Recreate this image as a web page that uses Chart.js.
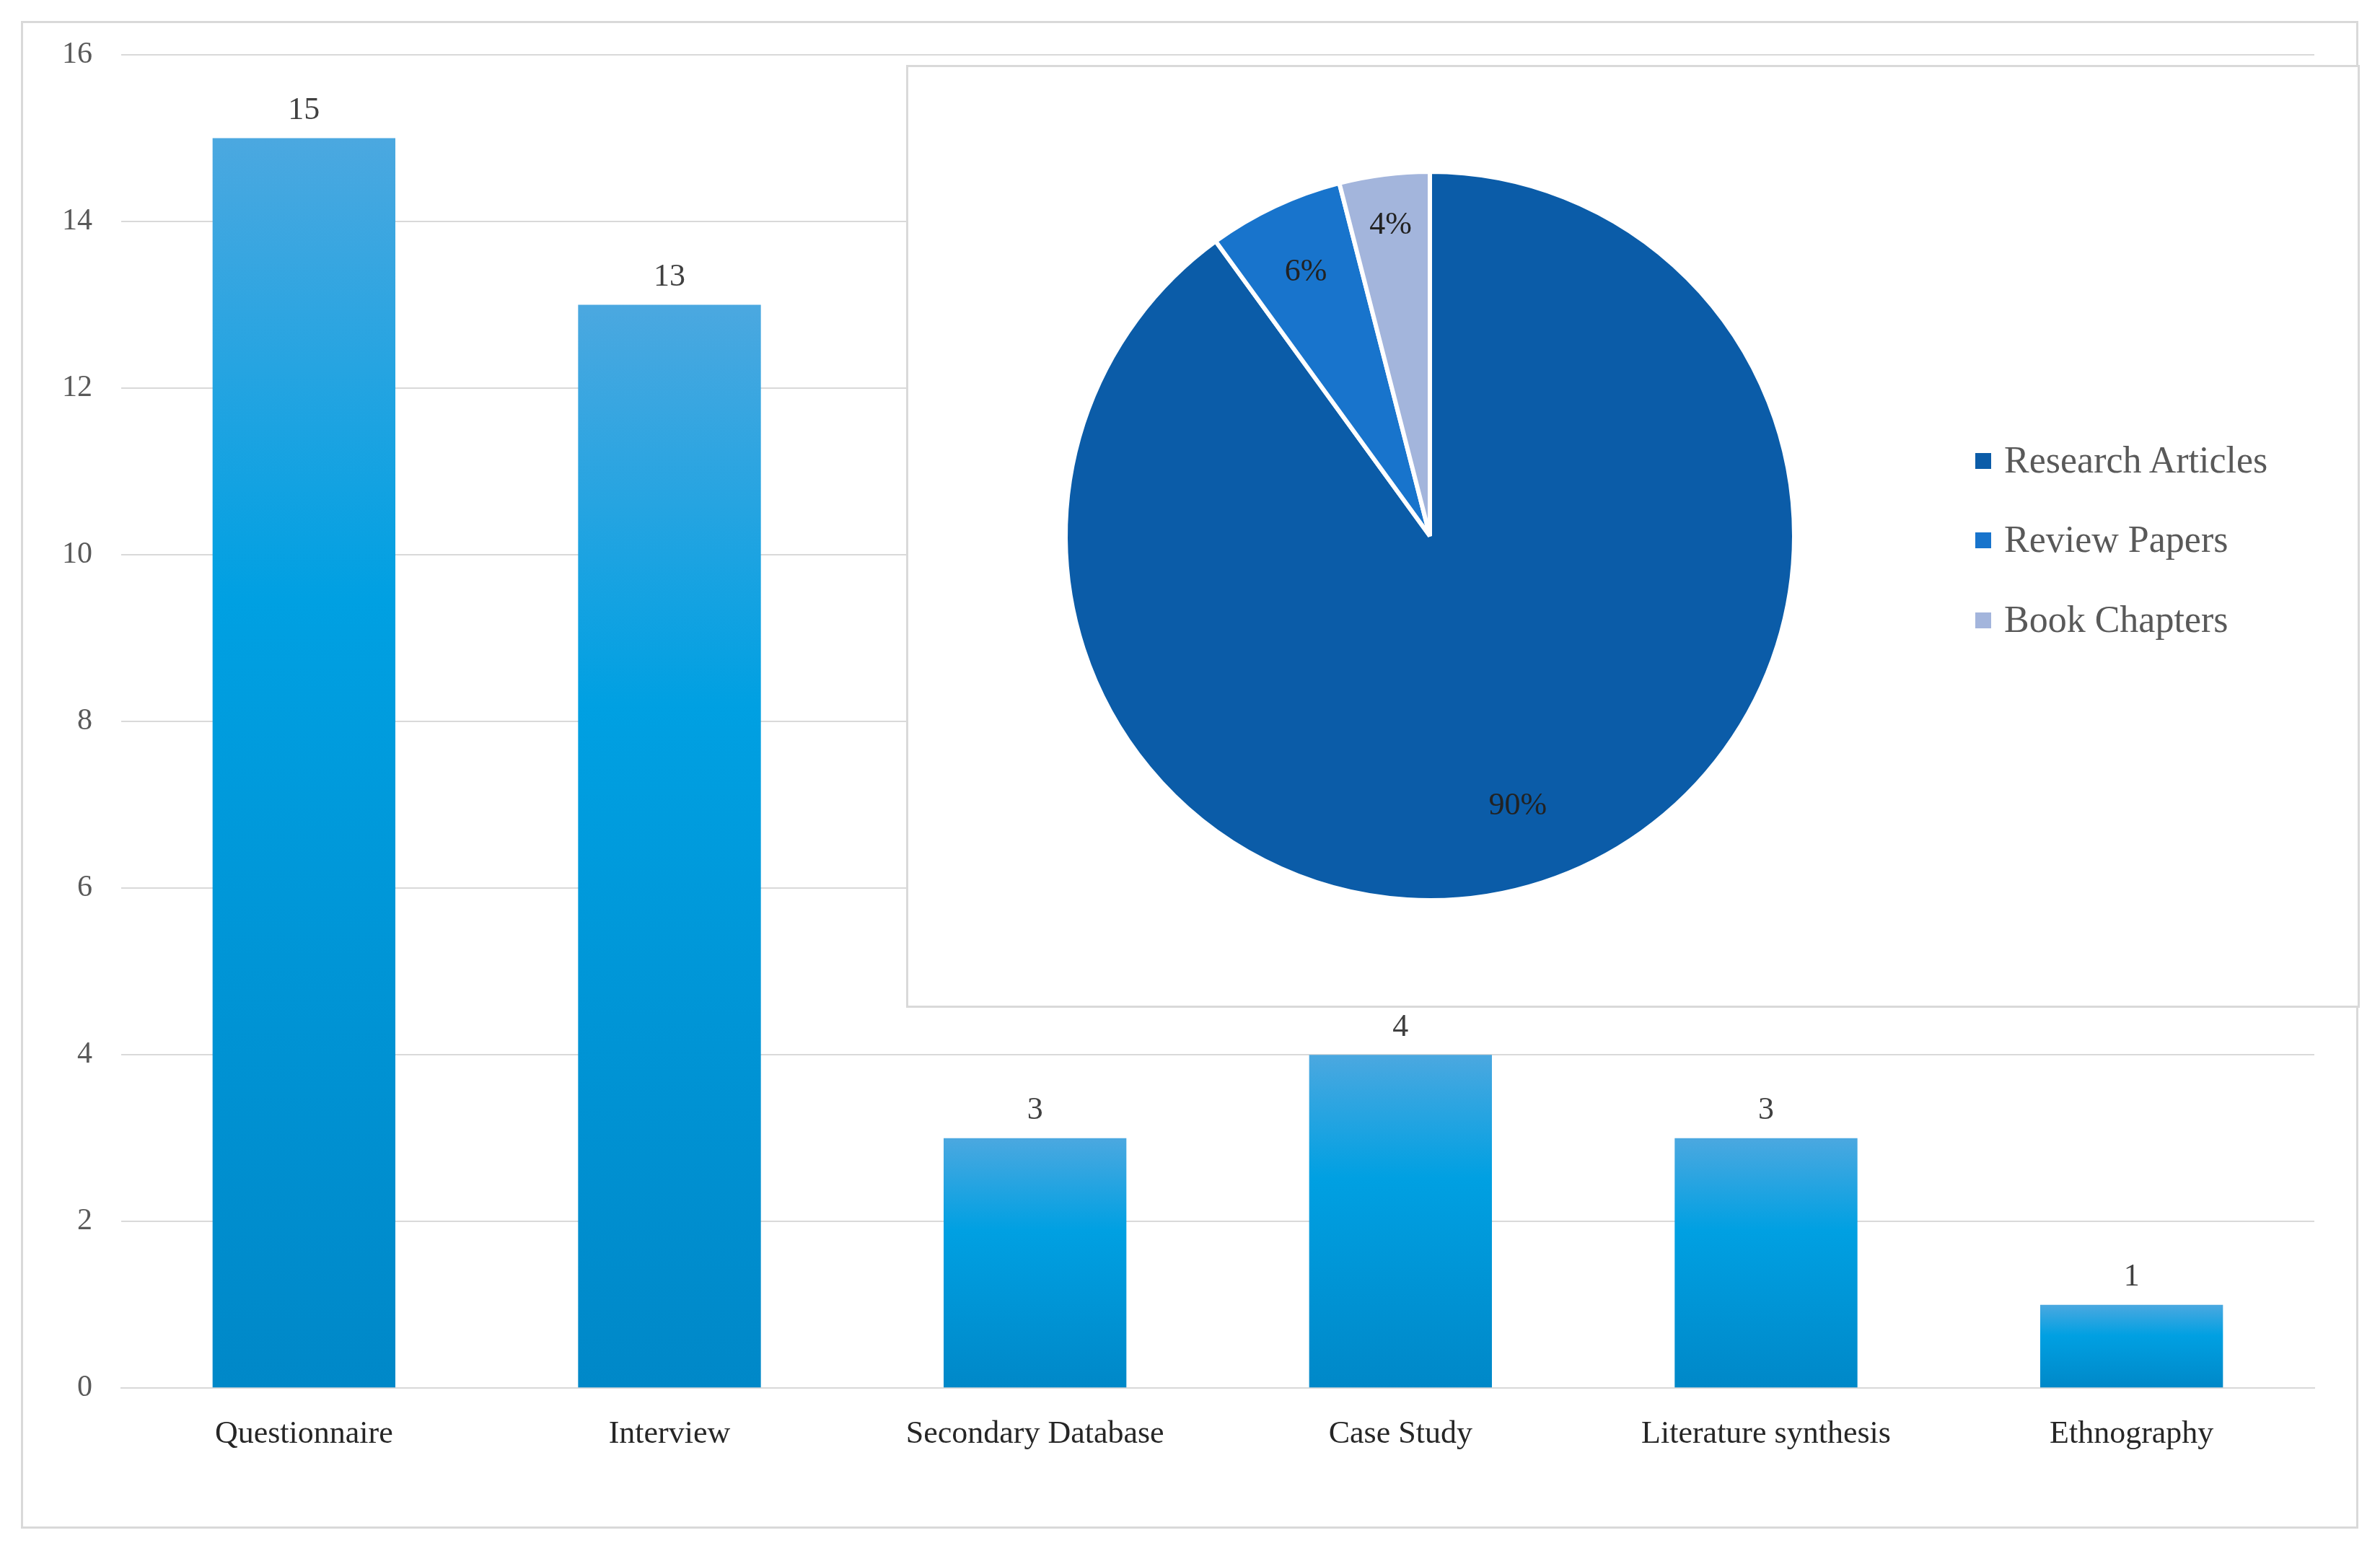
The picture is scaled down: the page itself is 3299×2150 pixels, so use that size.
<!DOCTYPE html>
<html><head><meta charset="utf-8">
<script src="https://cdn.jsdelivr.net/npm/chart.js@4"></script>
<style>
html,body{margin:0;padding:0;background:#fff;}
#wrap{position:relative;width:3299px;height:2150px;}
#frame{position:absolute;left:29px;top:29px;width:3240px;height:2090px;border:3px solid #d9d9d9;box-sizing:border-box;}
#barBox{position:absolute;left:0;top:0;width:3299px;height:2150px;}
#inset{position:absolute;left:1256px;top:90px;width:2015px;height:1307px;background:#fff;border:3px solid #d9d9d9;box-sizing:border-box;}
#pieBox{position:absolute;left:0;top:0;width:2015px;height:1307px;}
.lg{position:absolute;left:1479px;font-family:"Liberation Serif","DejaVu Serif",serif;font-size:52px;color:#595959;white-space:nowrap;}
.lg span{display:inline-block;width:22px;height:22px;margin-right:18px;vertical-align:middle;position:relative;top:-4px;}
</style></head><body>
<div id="wrap">
<div id="frame"></div>
<div id="barBox"><canvas id="bar" width="3299" height="2150"></canvas></div>
<div id="inset"><div id="pieBox"><canvas id="pie" width="2009" height="1301"></canvas></div>
<div class="lg" style="top:515px"><span style="background:#0b5ca8"></span>Research Articles</div>
<div class="lg" style="top:625px"><span style="background:#1874cc"></span>Review Papers</div>
<div class="lg" style="top:736px"><span style="background:#a3b5dc"></span>Book Chapters</div>
</div>
</div>
<script>
const categories=["Questionnaire","Interview","Secondary Database","Case Study","Literature synthesis","Ethnography"];
const counts=[15,13,3,4,3,1];
const pieLabels=["Research Articles","Review Papers","Book Chapters"];
const pieValues=[90,6,4];
const pieColors=["#0b5ca8","#1874cc","#a3b5dc"];
const FONT='"Liberation Serif","DejaVu Serif",serif';

const barLabels={id:'barLabels',afterDatasetsDraw(c){const ctx=c.ctx;const m=c.getDatasetMeta(0);ctx.save();ctx.font='44px '+FONT;ctx.fillStyle='#404040';ctx.textAlign='center';ctx.textBaseline='bottom';
m.data.forEach((el,i)=>ctx.fillText(counts[i],el.x,el.y-16));ctx.restore();}};
function grad(context){const c=context.chart;const a=c.chartArea;if(!a)return '#009ee0';const y=c.scales.y;const v=counts[context.dataIndex];
const top=y.getPixelForValue(v),bot=y.getPixelForValue(0);const g=c.ctx.createLinearGradient(0,top,0,bot);
g.addColorStop(0,'#4ba8e0');g.addColorStop(0.37,'#00a0e2');g.addColorStop(1,'#0088c8');return g;}
new Chart(document.getElementById('bar'),{type:'bar',
data:{labels:categories,datasets:[{data:counts,backgroundColor:grad,barPercentage:0.5,categoryPercentage:1}]},
options:{responsive:false,animation:false,devicePixelRatio:1,
layout:{padding:{left:50,right:91,top:76,bottom:105}},
plugins:{legend:{display:false},tooltip:{enabled:false}},
scales:{y:{min:0,max:16,ticks:{stepSize:2,font:{size:42,family:FONT},color:'#595959',padding:40},grid:{color:'#d9d9d9',lineWidth:2,drawTicks:false},border:{display:false},afterFit(s){s.width=118;}},
x:{ticks:{font:{size:44,family:FONT},color:'#262626',padding:30},grid:{display:false},border:{color:'#d9d9d9',width:2}}}},
plugins:[barLabels]});

const pieLbl={id:'pieLbl',afterDatasetsDraw(c){const ctx=c.ctx;const m=c.getDatasetMeta(0);ctx.save();ctx.font='44px '+FONT;ctx.fillStyle='#222';ctx.textAlign='center';ctx.textBaseline='middle';
const pos=[0.78,0.80,0.86];
m.data.forEach((el,i)=>{const mid=(el.startAngle+el.endAngle)/2;const r=el.outerRadius*pos[i];ctx.fillText(pieValues[i]+'%',el.x+Math.cos(mid)*r,el.y+Math.sin(mid)*r);});ctx.restore();}};
new Chart(document.getElementById('pie'),{type:'pie',
data:{labels:pieLabels,datasets:[{data:pieValues,backgroundColor:pieColors,borderColor:'#fff',borderWidth:6}]},
options:{responsive:false,animation:false,devicePixelRatio:1,
layout:{padding:{left:214,top:142,right:777,bottom:143}},
plugins:{legend:{display:false},tooltip:{enabled:false}}},plugins:[pieLbl]});
</script>
</body></html>
